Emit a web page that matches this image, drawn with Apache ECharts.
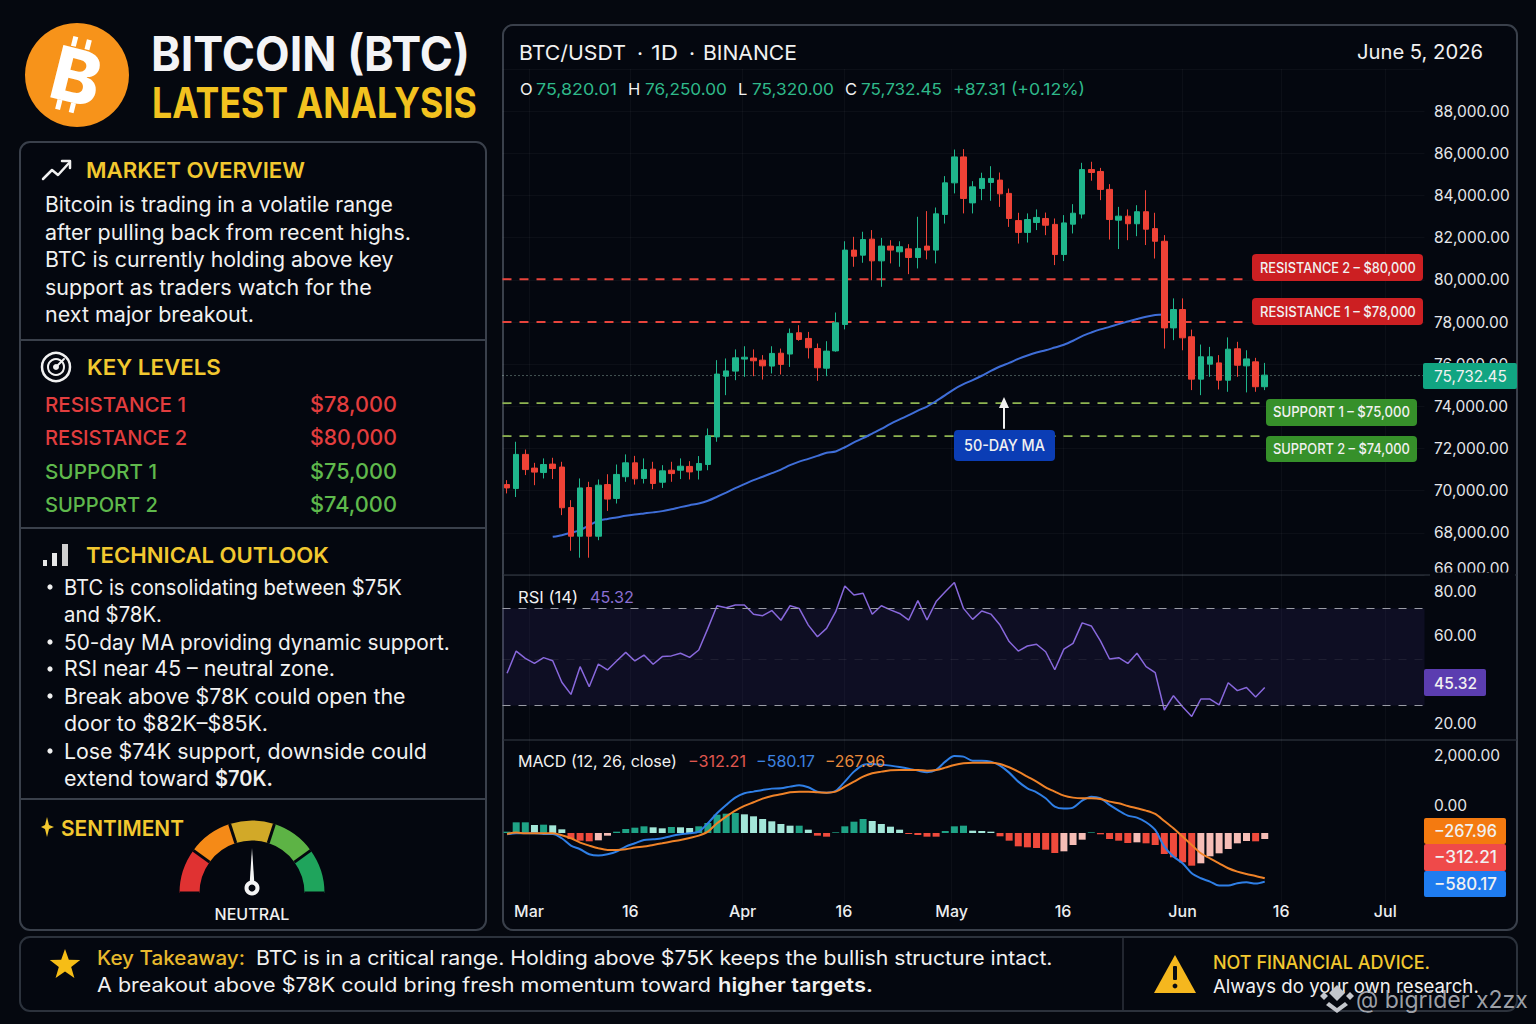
<!DOCTYPE html>
<html><head><meta charset="utf-8">
<style>html,body{margin:0;padding:0;background:#05080f}#c{width:1536px;height:1024px}</style>
<script src="https://cdn.jsdelivr.net/npm/echarts@6/dist/echarts.min.js"></script>
</head><body><div id="c"></div>
<script>
// ---------- data ----------
const slotCount = 101;
const categories = Array.from({length: slotCount}, (_, i) => 'D' + i);
const tickPositions = [2.9, 14.0, 26.3, 37.4, 49.2, 61.4, 74.5, 85.3, 96.7];
const tickLabels = ['Mar', '16', 'Apr', '16', 'May', '16', 'Jun', '16', 'Jul'];
// [open, close, low, high]
const candles = [
[70290,70130,69870,70500],[70100,71720,69700,72320],[71720,71000,70740,71950],[71070,70880,70260,71320],
[70860,71240,70580,71530],[71260,71050,70550,71560],[71120,69190,68840,71370],[69200,67840,67150,69550],
[67840,70130,66820,70580],[70150,67840,66820,70420],[67840,70260,67650,70530],[70290,69600,69040,70780],
[69630,70770,69390,71240],[70660,71320,70420,71720],[71320,70560,70290,71650],[70580,71000,70340,71530],
[71020,70340,70070,71370],[70400,70940,70130,71210],[70970,70810,70420,71370],[70970,71160,70550,71530],
[71150,70890,70530,71400],[70970,71290,70530,71640],[71240,72600,70970,72950],[72550,75530,72320,76190],
[75430,75680,74530,76270],[75670,76300,75240,76700],[76240,76330,75400,76850],[76290,76160,75430,76700],
[76190,75920,75270,76430],[75910,76510,75560,76850],[76520,75990,75510,76740],[76480,77460,75870,77690],
[77490,77170,77110,77850],[77220,76780,76270,77530],[76740,75830,75210,76980],[75810,76620,75430,77090],
[76630,77960,76590,78450],[77880,81410,77650,81830],[81410,81120,80620,82040],[81170,81910,80810,82280],
[81930,80900,79980,82360],[80900,81600,79670,81990],[81600,81410,80780,81880],[81330,81570,80620,81830],
[81470,81060,80270,81690],[81060,81490,80540,82990],[81600,81410,80970,83260],[81410,83130,80780,83430],
[83100,84600,82670,84920],[84600,85830,84100,86180],[85830,83860,83150,86200],[83650,84410,83150,84680],
[84330,84810,83780,85080],[84620,84810,83750,85390],[84730,84080,83460,85090],[84100,82910,82510,84330],
[82810,82250,81720,83180],[82250,82860,81770,83150],[82720,82960,82360,83340],[82910,82590,82120,83190],
[82630,81200,80700,82910],[81200,82700,80890,83070],[82640,83160,82200,83590],[83120,85230,82910,85550],
[85230,85090,84700,85600],[85140,84290,83780,85310],[84290,82860,81910,84540],[82830,83020,81460,83460],
[83020,82660,81880,83340],[82660,83230,82070,83540],[83230,82400,81650,84250],[82430,81830,81010,83180],
[81830,77720,76740,82120],[77720,78590,77140,79120],[78590,77250,76660,79120],[77300,75290,74770,77640],
[75290,76350,74530,76930],[76000,76350,75400,76820],[76060,75240,74800,76430],[75240,76710,74690,77270],
[76730,75950,75400,77060],[75920,76250,74660,76660],[76110,74930,74690,76300],[74930,75480,74770,76060]];
const ma50 = ['-','-','-','-','-',67810,67890,68000,68130,68360,68570,68660,68730,68810,68870,68920,68970,69030,69120,69220,69310,69390,69520,69710,69910,70120,70310,70500,70660,70830,71000,71210,71380,71510,71650,71800,71860,72060,72290,72490,72710,72930,73170,73380,73580,73800,73990,74250,74530,74820,75050,75240,75450,75680,75890,76060,76250,76410,76550,76660,76790,76920,77110,77330,77500,77650,77770,77900,78020,78140,78250,78330,78360];
const resistanceLevels = [80030, 78000];
const supportLevels = [74150, 72590];
const lastPriceLevel = 75460;
const rsi = [42.6,52.7,49.4,47.1,49.7,48.3,38.5,33.0,45.6,36.5,46.8,44.1,48.2,52.1,48.2,50.9,46.7,50.2,50.5,51.7,49.8,53.2,63.0,73.3,72.4,73.6,73.6,69.4,68.8,71.1,66.7,73.3,72.1,64.5,59.2,63.0,70.6,82.3,78.2,79.0,69.4,73.3,71.4,69.8,66.8,75.6,66.8,75.2,79.7,83.9,72.1,67.1,70.9,69.5,64.5,57.0,52.7,55.0,55.8,52.4,44.2,53.6,56.2,65.5,64.1,57.3,49.1,49.7,47.1,51.7,45.6,42.9,25.9,32.4,27.4,23.0,30.9,30.9,28.2,38.3,34.7,36.1,31.8,36.1];
const rsiBands = [72, 28];
const rsiMid = 49;
const macdHist = [53,427,427,320,333,307,147,-240,-307,-333,-293,-107,53,160,213,267,227,187,240,227,200,267,400,733,773,800,747,667,560,467,360,293,293,133,-107,-147,27,267,453,560,480,360,253,133,-40,-80,-147,-147,80,267,293,93,80,53,-133,-307,-533,-573,-600,-667,-800,-733,-480,-267,27,-53,-240,-307,-400,-373,-413,-480,-840,-973,-1173,-1307,-1213,-933,-813,-640,-413,-320,-333,-240];
const macdDif = [-1171,-1131,-1131,-1131,-1158,-1158,-1331,-1624,-1771,-1971,-2024,-1971,-1864,-1664,-1531,-1397,-1371,-1331,-1237,-1171,-1131,-1064,-731,-331,2,295,469,535,602,655,669,735,789,709,535,495,562,935,1335,1602,1642,1615,1575,1522,1455,1375,1309,1402,1735,1962,1935,1775,1775,1735,1575,1295,935,669,509,269,-65,-144,-104,176,335,269,2,-224,-424,-504,-691,-997,-1664,-2064,-2330,-2730,-2930,-3064,-3224,-3224,-3130,-3090,-3144,-3064];
const macdDea = [-1158,-1104,-1131,-1131,-1131,-1131,-1211,-1331,-1504,-1624,-1731,-1797,-1797,-1771,-1704,-1664,-1597,-1531,-1464,-1397,-1317,-1224,-1064,-731,-464,-224,-38,109,255,362,429,509,535,535,509,495,535,735,935,1135,1269,1335,1389,1402,1402,1402,1375,1402,1495,1602,1669,1695,1695,1695,1642,1509,1335,1135,935,709,535,375,295,269,269,242,135,69,-38,-131,-224,-358,-638,-931,-1264,-1597,-1931,-2131,-2331,-2531,-2664,-2757,-2837,-2931];
const gaugeValue = 50;
const gaugeLabel = 'NEUTRAL';

// ---------- helpers ----------
const BODY = 'Inter';
const measure = document.createElement('canvas').getContext('2d');
const g = [];
function T(text, x, y, size, color, o) {
  o = o || {};
  const font = (o.weight || 400) + ' ' + size + 'px ' + (o.family || BODY);
  measure.font = font;
  const sx = o.w ? o.w / measure.measureText(text).width : 1;
  g.push({type:'text', x, y, scaleX:sx, z:o.z == null ? 60 : o.z, silent:true,
    style:{text, fill:color, font, align:'left', verticalAlign:'middle', opacity:o.opacity == null ? 1 : o.opacity}});
}
function R(x, y, w, h, fill, o) {
  o = o || {};
  g.push({type:'rect', z:o.z == null ? 50 : o.z, silent:true, shape:{x,y,width:w,height:h,r:o.r||0},
    style:{fill:fill||'none', stroke:o.stroke||null, lineWidth:o.lw||0}});
}
function L(pts, color, lw, o) {
  o = o || {};
  g.push({type:'polyline', z:o.z == null ? 55 : o.z, silent:true, shape:{points:pts}, style:{stroke:color, lineWidth:lw, fill:'none', lineCap:'round', lineJoin:'round'}});
}
function P(pts, fill, o) {
  o = o || {};
  g.push({type:'polygon', z:o.z == null ? 55 : o.z, silent:true, shape:{points:pts}, style:{fill}});
}
function C(cx, cy, r, fill, stroke, lw) {
  g.push({type:'circle', z:55, silent:true, shape:{cx,cy,r}, style:{fill:fill||'none', stroke:stroke||null, lineWidth:lw||0}});
}
const YEL = '#f2c82f', WHITE = '#f1f1f1', BORDER = '#3a404b', RED_T = '#e23d3e', GRN_T = '#5fb94c';

// ---------- panels ----------
R(20,142,466,788,'#04070f',{stroke:BORDER,lw:2,r:10,z:-5});
R(503,25,1014,905,'#04070f',{stroke:BORDER,lw:2,r:10,z:-5});
R(20,937,1497,74,'#04070f',{stroke:'#2c323c',lw:2,r:10,z:-5});
[340,528,799].forEach(y => L([[21,y],[485,y]],BORDER,2,{z:-4}));
L([[1123,938],[1123,1010]],'#2c323c',1.5,{z:-4});
L([[504,575],[1516,575]],'#262c36',1.5,{z:-4});
L([[504,740],[1516,740]],'#262c36',1.5,{z:-4});

// ---------- header ----------
C(77,75,52,'#f7931a');
g.push({type:'group', x:77, y:75, rotation:-0.245, z:56, silent:true, children:[
  {type:'text', z:56, style:{text:'B', fill:'#fff', font:'800 74px Inter', align:'center', verticalAlign:'middle'}, y:1},
  {type:'rect', z:56, shape:{x:-13,y:-37,width:5,height:10}, style:{fill:'#fff'}},
  {type:'rect', z:56, shape:{x:1,y:-37,width:5,height:10}, style:{fill:'#fff'}},
  {type:'rect', z:56, shape:{x:-13,y:28,width:5,height:10}, style:{fill:'#fff'}},
  {type:'rect', z:56, shape:{x:1,y:28,width:5,height:10}, style:{fill:'#fff'}}
]});
T('BITCOIN (BTC)',151,53,48,'#f4f4f6',{weight:700,w:319});
T('LATEST ANALYSIS',152,103,43,'#f2c21f',{weight:700,w:325});

// ---------- market overview ----------
L([[43,179],[52,170],[58,175],[69,163]],WHITE,2.5);
L([[62,161],[70,161],[70,168]],WHITE,2.5);
T('MARKET OVERVIEW',86,170,22,YEL,{weight:600,w:219});
[['Bitcoin is trading in a volatile range',205,348],['after pulling back from recent highs.',232,366],['BTC is currently holding above key',260,349],['support as traders watch for the',287,327],['next major breakout.',314,209]]
  .forEach(a => T(a[0],45,a[1],21,WHITE,{w:a[2]}));

// ---------- key levels ----------
C(56,367,14,null,WHITE,2.5); C(56,367,8,null,WHITE,2); C(56,367,3,WHITE);
L([[56,367],[64,359]],WHITE,2);
T('KEY LEVELS',87,367,22,YEL,{weight:600,w:134});
[['RESISTANCE 1',405,141,RED_T,'$78,000'],['RESISTANCE 2',438,142,RED_T,'$80,000'],['SUPPORT 1',472,112,GRN_T,'$75,000'],['SUPPORT 2',505,113,GRN_T,'$74,000']]
  .forEach(a => { T(a[0],45,a[1],20,a[3],{weight:500,w:a[2]}); T(a[4],310,a[1]-1,22,a[3],{weight:500,w:87}); });

// ---------- technical outlook ----------
R(43,560,4,6,'#e8e8e8',{z:55}); R(52,553,5,13,'#e8e8e8',{z:55}); R(62,544,6,22,'#d0d0d0',{z:55});
T('TECHNICAL OUTLOOK',86,555,22,YEL,{weight:600,w:243});
[['BTC is consolidating between $75K',587,338],['and $78K.',614,98],['50-day MA providing dynamic support.',642,386],['RSI near 45 – neutral zone.',669,271],['Break above $78K could open the',696,342],['door to $82K–$85K.',723,204],['Lose $74K support, downside could',751,363],['extend toward',778,145]]
  .forEach(a => T(a[0],64,a[1],21,WHITE,{w:a[2]}));
T('$70K.',215,778,21,WHITE,{weight:600,w:58});
[587,642,669,696,751].forEach(y => C(50,y,2.6,WHITE));

// ---------- sentiment ----------
P([[47,817],[49,825],[54,827],[49,829],[47,837],[45,829],[41,827],[45,825]],YEL);
T('SENTIMENT',61,828,22,YEL,{weight:600,w:123});

// ---------- chart head ----------
T('BTC/USDT',519,53,20,WHITE,{w:107}); T('·',637,53,21,WHITE); T('1D',651,53,20,WHITE,{w:27});
T('·',689,53,21,WHITE); T('BINANCE',703,53,20,WHITE,{w:94});
T('June 5, 2026',1357,52,20,WHITE,{w:126});
const UP = '#2fb98a';
[['O',520,'75,820.01',536,81],['H',628,'76,250.00',645,82],['L',738,'75,320.00',752,82],['C',845,'75,732.45',861,81]]
  .forEach(a => { T(a[0],a[1],89,16.5,WHITE); T(a[2],a[3],89,16.5,UP,{w:a[4]}); });
T('+87.31 (+0.12%)',953,89,16.5,UP,{w:132});
T('RSI (14)',518,597,16,WHITE,{w:60});
T('45.32',590,597,16,'#8a6fd2',{w:44});
T('MACD (12, 26, close)',518,761,16,WHITE,{w:159});
T('−312.21',688,761,16,'#e0574f',{w:58});
T('−580.17',756,761,16,'#3d82e0',{w:59});
T('−267.96',825,761,16,'#e98a3c',{w:60});

// ---------- tags ----------
R(1252,254,171,27,'#cc1f22',{r:4});
T('RESISTANCE 2 – $80,000',1260,268,14.5,WHITE,{weight:500,w:156});
R(1252,298,171,27,'#cc1f22',{r:4});
T('RESISTANCE 1 – $78,000',1260,312,14.5,WHITE,{weight:500,w:156});
R(1266,399,151,27,'#36902a',{r:4});
T('SUPPORT 1 – $75,000',1273,412,14.5,WHITE,{weight:500,w:137});
R(1266,436,151,26,'#36902a',{r:4});
T('SUPPORT 2 – $74,000',1273,449,14.5,WHITE,{weight:500,w:137});
R(1423,363,94,26,'#11a582',{r:2});
T('75,732.45',1434,376,16.5,WHITE,{w:73});
R(1424,669,62,27,'#5b3db0',{r:2});
T('45.32',1434,683,16.5,WHITE,{weight:500,w:43});
R(1424,818,82,26,'#f47a10',{r:2}); T('−267.96',1434,831,17,WHITE,{weight:500,w:63});
R(1424,844,82,27,'#ef4a4a',{r:2}); T('−312.21',1434,857,17,WHITE,{weight:500,w:63});
R(1424,871,82,26,'#1f7cf0',{r:2}); T('−580.17',1434,884,17,WHITE,{weight:500,w:63});
R(954,430,101,31,'#0b3db5',{r:4});
T('50-DAY MA',964,446,15.5,WHITE,{weight:500,w:81});
L([[1004,428],[1004,406]],WHITE,2);
P([[1004,397],[999,408],[1009,408]],WHITE);
// clip of the lowest price tick by the pane edge
R(1430,572.5,85,7,'#04070f',{z:40});

// ---------- footer ----------
(function(){ const pts=[]; for(let i=0;i<10;i++){const r=i%2?6.5:16,a=-Math.PI/2+i*Math.PI/5; pts.push([65+r*Math.cos(a),965+r*Math.sin(a)]);} P(pts,'#f6bd16'); })();
T('Key Takeaway:',97,958,20,'#e8b92d',{weight:500,w:148});
T('BTC is in a critical range. Holding above $75K keeps the bullish structure intact.',256,958,20,WHITE,{w:797});
T('A breakout above $78K could bring fresh momentum toward',97,985,20,WHITE,{w:614});
T('higher targets.',718,985,20,WHITE,{weight:600,w:155});
P([[1175,955],[1196,993],[1154,993]],'#f5b71e');
R(1173,966,4,14,'#0a0c12',{z:56,r:1}); C(1175,986,2.4,'#0a0c12');
T('NOT FINANCIAL ADVICE.',1213,962,18,YEL,{weight:500,w:217});
T('Always do your own research.',1213,986,18.5,WHITE,{w:266});
P([[1337,985],[1345,993],[1337,1001],[1329,993]],'#c3c6cc',{z:70});
P([[1324,992],[1328,996],[1324,1000],[1320,996]],'#c3c6cc',{z:70});
P([[1350,992],[1354,996],[1350,1000],[1346,996]],'#c3c6cc',{z:70});
P([[1329,1002],[1337,1008],[1345,1002],[1348,1005],[1337,1013],[1326,1005]],'#c3c6cc',{z:70});
T('@ bigrider x2zx',1356,999,24,'#b9bcc2',{w:172,z:70,opacity:0.85});

// ---------- chart ----------
const axisFont = {color:'#e4e6ea', fontSize:15.5, fontFamily:BODY};
const num = (v,d) => v.toLocaleString('en-US',{minimumFractionDigits:d,maximumFractionDigits:d});
const gridBox = (top,height) => ({left:502.5,width:922,top,height,containLabel:false,show:false});
const catAxis = gridIndex => ({type:'category',gridIndex,data:categories,show:false,boundaryGap:true});
const faint = {show:true,lineStyle:{color:'rgba(255,255,255,0.035)',width:1}};
function levelSeries(v,end,color,type,w){
  return {type:'line',xAxisIndex:4,yAxisIndex:0,symbol:'none',silent:true,z:1,data:[[0,v],[end,v]],lineStyle:{color,type,width:w}};
}
const histColor = p => {
  const i = p.dataIndex, v = macdHist[i], prev = i ? macdHist[i-1] : 0;
  if (v >= 0) return v >= prev ? '#1fa386' : '#a3e6d8';
  return v <= prev ? '#ef4a3c' : '#f6bdb6';
};
const option = {
  backgroundColor:'#05080f', animation:false, tooltip:{show:false}, legend:{show:false},
  grid:[gridBox(69,506),gridBox(547,220),gridBox(705,200),gridBox(69,836)],
  xAxis:[catAxis(0),catAxis(1),catAxis(2),
    {type:'value',gridIndex:3,min:0,max:slotCount,
     axisLine:{show:false},axisTick:{show:false,customValues:tickPositions},splitLine:faint,
     axisLabel:{customValues:tickPositions,margin:-2,color:'#eceef0',fontSize:16,fontWeight:500,fontFamily:BODY,hideOverlap:false,showMinLabel:true,showMaxLabel:true,
       formatter:v => tickLabels[tickPositions.indexOf(v)] || ''}},
    {type:'value',gridIndex:0,min:0,max:slotCount,show:false}],
  yAxis:[
    {type:'value',gridIndex:0,position:'right',min:66000,max:90000,interval:2000,scale:true,
     axisLine:{show:false},axisTick:{show:false},splitLine:faint,
     axisLabel:{...axisFont,margin:9.5,formatter:v => v===90000?'':(v===66000?'{low|'+num(v,2)+'}':num(v,2)),
       rich:{low:{...axisFont,padding:[0,0,14,0]}}}},
    {type:'value',gridIndex:1,position:'right',min:0,max:100,interval:20,
     axisLine:{show:false},axisTick:{show:false},splitLine:{show:false},
     axisLabel:{...axisFont,margin:9.5,formatter:v => (v===0||v===100)?'':num(v,2)}},
    {type:'value',gridIndex:2,position:'right',min:-4000,max:4000,interval:2000,
     axisLine:{show:false},axisTick:{show:false},splitLine:{show:false},
     axisLabel:{...axisFont,margin:9.5,formatter:v => (v===0||v===2000)?num(v,2):''}},
    {type:'value',gridIndex:2,min:-2880,max:5120,show:false},
    {type:'value',gridIndex:3,min:0,max:1,show:false}],
  series:[
    levelSeries(resistanceLevels[0],81.5,'#e8443c',[9,8],2),
    levelSeries(resistanceLevels[1],81.5,'#e8443c',[9,8],2),
    levelSeries(supportLevels[0],83.5,'#8fb552',[9,8],1.8),
    levelSeries(supportLevels[1],83.5,'#8fb552',[9,8],1.8),
    levelSeries(lastPriceLevel,slotCount,'rgba(190,230,210,0.7)',[1,3],1),
    {type:'line',name:'MA50',xAxisIndex:0,yAxisIndex:0,data:ma50,symbol:'none',smooth:0.3,z:1,lineStyle:{color:'#3f6ed8',width:2}},
    {type:'candlestick',name:'BTC/USDT',xAxisIndex:0,yAxisIndex:0,data:candles,barWidth:6,z:3,
     itemStyle:{color:'#1fb68c',color0:'#ee4236',borderColor:'#1fb68c',borderColor0:'#ee4236',borderWidth:1}},
    {type:'line',name:'RSI',xAxisIndex:1,yAxisIndex:1,data:rsi,symbol:'none',z:3,lineStyle:{color:'#8868dc',width:1.5},
     markArea:{silent:true,itemStyle:{color:'rgba(84,58,170,0.13)'},data:[[{yAxis:rsiBands[1]},{yAxis:rsiBands[0]}]]},
     markLine:{silent:true,symbol:'none',label:{show:false},data:[
       {yAxis:rsiBands[0],lineStyle:{color:'#9a9ca6',type:[8,8],width:1.2}},
       {yAxis:rsiBands[1],lineStyle:{color:'#9a9ca6',type:[8,8],width:1.2}},
       {yAxis:rsiMid,lineStyle:{color:'rgba(255,255,255,0.07)',type:[8,8],width:1}}]}},
    {type:'bar',name:'Histogram',xAxisIndex:2,yAxisIndex:3,data:macdHist,barWidth:7,z:2,itemStyle:{color:histColor}},
    {type:'line',name:'DIF',xAxisIndex:2,yAxisIndex:2,data:macdDif,symbol:'none',smooth:0.3,z:3,lineStyle:{color:'#2f7fe6',width:2}},
    {type:'line',name:'DEA',xAxisIndex:2,yAxisIndex:2,data:macdDea,symbol:'none',smooth:0.3,z:4,lineStyle:{color:'#ef8228',width:2}},
    {type:'gauge',center:[252,893],radius:72.5,startAngle:180,endAngle:0,min:0,max:100,splitNumber:5,z:10,
     axisLine:{roundCap:false,lineStyle:{width:20,color:[[0.2,'#e03232'],[0.4,'#f58a17'],[0.6,'#d2a928'],[0.8,'#5db345'],[1,'#1fa45c']]}},
     axisTick:{show:false},axisLabel:{show:false},
     splitLine:{distance:-20,length:20,lineStyle:{color:'#04070f',width:3}},
     pointer:{icon:'triangle',length:45,width:6,offsetCenter:[0,0],itemStyle:{color:'#f4f4f4'}},
     anchor:{show:true,showAbove:true,size:11,offsetCenter:[0,-5],itemStyle:{color:'#04070f',borderColor:'#f4f4f4',borderWidth:4}},
     title:{show:true,offsetCenter:[0,21],color:'#f0f0f0',fontSize:16,fontWeight:500,fontFamily:BODY},
     detail:{show:false},data:[{value:gaugeValue,name:gaugeLabel}]}
  ],
  graphic:{elements:g}
};
const chart = echarts.init(document.getElementById('c'),null,{renderer:'svg',width:1536,height:1024});
chart.setOption(option);
</script></body></html>
